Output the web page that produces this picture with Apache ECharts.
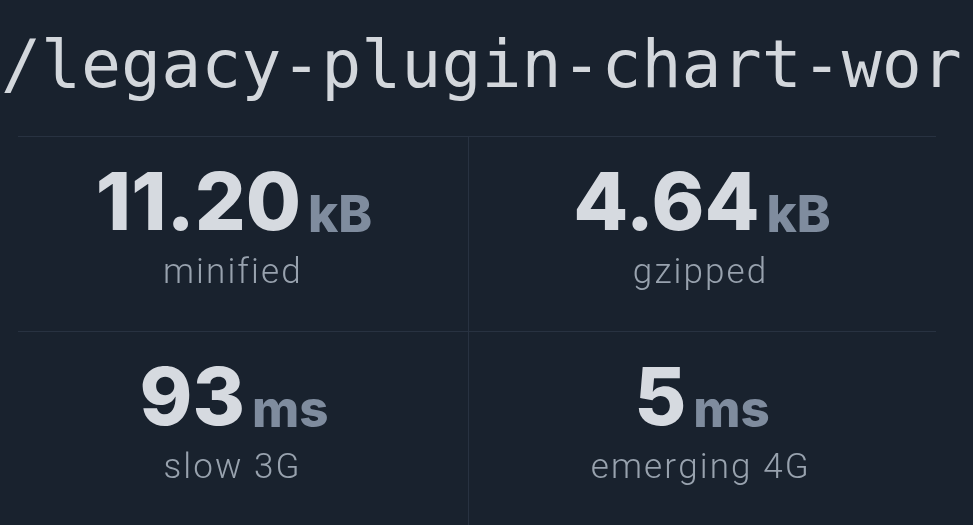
<!DOCTYPE html>
<html>
<head>
<meta charset="utf-8">
<script src="https://cdn.jsdelivr.net/npm/echarts@6/dist/echarts.min.js"></script>
<style>
  html, body { margin: 0; padding: 0; background: #19222e; }
  #main { width: 973px; height: 525px; }
</style>
</head>
<body>
<div id="main"></div>
<script>
// package name (cut by the card edge)
var pkgName = '/legacy-plugin-chart-wor';
// stat cells, row by row
var statValues = ['11.20', '4.64', '93', '5'];
var statUnits = ['kB', 'kB', 'ms', 'ms'];
var statLabels = ['minified', 'gzipped', 'slow 3G', 'emerging 4G'];

var myChart = echarts.init(document.getElementById('main'));

var bg = '#19222e';
var lineColor = '#283241';
var numSize = 80, unitSize = 51, labSize = 35;
var numFont = '800 ' + numSize + 'px Inter';
var unitFont = '800 ' + unitSize + 'px Inter';
var labelFont = '300 ' + labSize + 'px Roboto';
var labSpacing = 2.1;

// measure text so blocks can be centred
var ctx = document.createElement('canvas').getContext('2d');
function textWidth(t, font) {
  ctx.font = font;
  return ctx.measureText(t).width;
}

var colW = 468, rowTop = [136, 331];
var elements = [];

// title
elements.push({
  type: 'text', x: 1, y: 70,
  style: { text: pkgName, font: '400 66.5px "DejaVu Sans Mono"', fill: '#d3d7dc', align: 'left', verticalAlign: 'middle' }
});

// divider lines
elements.push({ type: 'line', shape: { x1: 18, y1: 136.5, x2: 936, y2: 136.5 }, style: { stroke: lineColor, lineWidth: 1 } });
elements.push({ type: 'line', shape: { x1: 18, y1: 331.5, x2: 936, y2: 331.5 }, style: { stroke: lineColor, lineWidth: 1 } });
elements.push({ type: 'line', shape: { x1: 468.5, y1: 136, x2: 468.5, y2: 525 }, style: { stroke: lineColor, lineWidth: 1 } });

for (var i = 0; i < statValues.length; i++) {
  var col = i % 2, row = Math.floor(i / 2);
  var cx = col * colW + colW / 2;
  var cellTop = rowTop[row];
  var numBase = cellTop + 99, labBase = cellTop + 150;
  var wn = textWidth(statValues[i], numFont);
  var wu = textWidth(statUnits[i], unitFont);
  var gap = 7;
  var left = cx - (wn + gap + wu) / 2;
  elements.push({
    type: 'text', x: left, y: numBase - 0.36 * numSize,
    style: { text: statValues[i], font: numFont, fill: '#d6dae0', align: 'left', verticalAlign: 'middle' }
  });
  elements.push({
    type: 'text', x: left + wn + gap, y: numBase - 0.36 * unitSize,
    style: { text: statUnits[i], font: unitFont, fill: '#7f8c9e', align: 'left', verticalAlign: 'middle' }
  });
  // label drawn letter by letter to get the wide tracking
  var chars = statLabels[i].split('');
  var total = textWidth(statLabels[i], labelFont) + labSpacing * (chars.length - 1);
  var lx = cx - 2.5 - total / 2;
  for (var c = 0; c < chars.length; c++) {
    if (chars[c] !== ' ') {
      elements.push({
        type: 'text', x: lx, y: labBase - 0.34 * labSize,
        style: { text: chars[c], font: labelFont, fill: '#98a2ae', align: 'left', verticalAlign: 'middle' }
      });
    }
    lx += textWidth(chars[c], labelFont) + labSpacing;
  }
}

var option = {
  backgroundColor: bg,
  animation: false,
  graphic: elements
};
myChart.setOption(option);
</script>
</body>
</html>
